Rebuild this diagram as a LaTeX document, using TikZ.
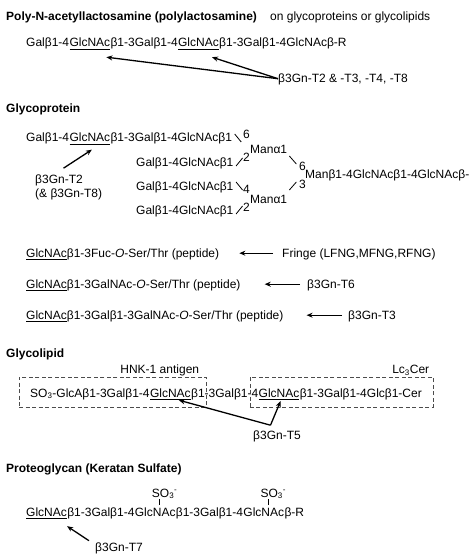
\documentclass[tikz,border=0pt]{standalone}
\usepackage{fontspec}
\setmainfont{Liberation Sans}
\usetikzlibrary{positioning,arrows.meta,fit}

\newcommand{\uln}[1]{\setbox0=\hbox{#1}\rlap{\rule[-2.4pt]{\wd0}{0.7pt}}\box0}

\tikzset{
  txt/.style={inner sep=0pt, text height=8.6pt, text depth=0pt, anchor=base west,
              font=\fontsize{12}{14}\selectfont},
  ttl/.style={txt, font=\fontsize{12}{14}\selectfont\bfseries},
  arr/.style={->, line width=1.3pt},
  lnk/.style={line width=0.8pt},
  bar/.style={line width=1.4pt},
  dbox/.style={draw=black!70, dash pattern=on 4pt off 2.5pt, line width=0.8pt, inner sep=0pt},
}

\begin{document}
\begin{tikzpicture}[x=1pt, y=-1pt, >={Stealth[length=6pt,width=5pt]}]
  \useasboundingbox (0,0) rectangle (474,559);

  % Poly-N-acetyllactosamine
  \node[ttl] (polyT) at (6,21) {Poly-N-acetyllactosamine (polylactosamine)};
  \node[txt] (polyO) at (270,21) {on glycoproteins or glycolipids};
  \node[txt] (pa) at (26,47) {Galβ1-4};
  \node[txt, base right=0pt of pa] (pg1) {\uln{GlcNAc}};
  \node[txt, base right=0pt of pg1] (pb) {β1-3Galβ1-4};
  \node[txt, base right=0pt of pb] (pg2) {\uln{GlcNAc}};
  \node[txt, base right=0pt of pg2] (pc) {β1-3Galβ1-4GlcNAcβ-R};
  \node[txt] (polyE) at (278,83) {β3Gn-T2 \& -T3, -T4, -T8};
  \draw[arr] (polyE.west) -- ([xshift=-4pt,yshift=-10pt]pg1.south east);
  \draw[arr] (polyE.west) -- ([xshift=-7pt,yshift=-10pt]pg2.south east);

  % Glycoprotein
  \node[ttl] (gpT) at (6,113) {Glycoprotein};
  \node[txt] (ga) at (26,142) {Galβ1-4};
  \node[txt, base right=0pt of ga] (gg) {\uln{GlcNAc}};
  \node[txt, base right=0pt of gg] (gb) {β1-3Galβ1-4GlcNAcβ1};
  \node[txt] (g2) at (136,166) {Galβ1-4GlcNAcβ1};
  \node[txt] (g3) at (136,190) {Galβ1-4GlcNAcβ1};
  \node[txt] (g4) at (136,214) {Galβ1-4GlcNAcβ1};
  \node[txt] (manA) at (250,153) {Manα1};
  \node[txt] (manB) at (250,203) {Manα1};
  \node[txt] (manC) at (305,178) {Manβ1-4GlcNAcβ1-4GlcNAcβ-};
  \node[txt] (d6a) at (243,139) {6};
  \node[txt] (d2a) at (243,161) {2};
  \node[txt] (d4)  at (243,193) {4};
  \node[txt] (d2b) at (243,211) {2};
  \node[txt] (d6b) at (299,170) {6};
  \node[txt] (d3)  at (299,188) {3};
  \draw[lnk] ([xshift=2.5pt,yshift=8pt]gb.base east) -- ([xshift=9pt]gb.base east);
  \draw[lnk] ([xshift=2.5pt]g2.base east) -- ([xshift=9pt,yshift=8pt]g2.base east);
  \draw[lnk] ([xshift=2.5pt,yshift=8pt]g3.base east) -- ([xshift=9pt]g3.base east);
  \draw[lnk] ([xshift=2.5pt]g4.base east) -- ([xshift=9pt,yshift=8pt]g4.base east);
  \draw[lnk] ([xshift=2pt,yshift=-3pt]manA.base east) -- ([xshift=9pt,yshift=-11pt]manA.base east);
  \draw[lnk] ([xshift=2pt,yshift=13pt]manB.base east) -- ([xshift=9pt,yshift=21pt]manB.base east);
  \node[txt] (t2a) at (35,183) {β3Gn-T2};
  \node[txt] (t2b) at (35,197) {(\& β3Gn-T8)};
  \draw[arr] ([xshift=4.5pt,yshift=6pt]t2a.north) -- ([xshift=2pt,yshift=-7.5pt]gg.south);

  % O-glycans on peptides
  \node[txt] (pp1) at (26,257.5) {\uln{GlcNAc}β1-3Fuc-\textit{O}-Ser/Thr (peptide)};
  \node[txt] (fng) at (282,257.5) {Fringe (LFNG,MFNG,RFNG)};
  \draw[arr, shorten <=9pt, shorten >=20pt] (fng.west) -- (pp1.east);
  \node[txt] (pp2) at (26,288.5) {\uln{GlcNAc}β1-3GalNAc-\textit{O}-Ser/Thr (peptide)};
  \node[txt] (t6) at (307,288.5) {β3Gn-T6};
  \draw[arr, shorten <=7pt, shorten >=24pt] (t6.west) -- (pp2.east);
  \node[txt] (pp3) at (26,319.5) {\uln{GlcNAc}β1-3Galβ1-3GalNAc-\textit{O}-Ser/Thr (peptide)};
  \node[txt] (t3) at (348,319.5) {β3Gn-T3};
  \draw[arr, shorten <=6pt, shorten >=23pt] (t3.west) -- (pp3.east);

  % Glycolipid
  \node[ttl] (glT) at (6,357.5) {Glycolipid};
  \node[txt] (la) at (30,397) {SO\textsubscript{3}-GlcAβ1-3Galβ1-4};
  \node[txt, base right=0pt of la] (lg1) {\uln{GlcNAc}};
  \node[txt, base right=0pt of lg1] (lb) {β1-3Galβ1-4};
  \node[txt, base right=0pt of lb] (lg2) {\uln{GlcNAc}};
  \node[txt, base right=0pt of lg2] (lc) {β1-3Galβ1-4Glcβ1-Cer};
  \node[dbox, fit={([xshift=-11pt,yshift=20pt]la.base west) ([xshift=15pt,yshift=-10pt]lg1.base east)}] (hnk) {};
  \node[dbox, fit={([xshift=-8.5pt,yshift=20pt]lg2.base west) ([xshift=11pt,yshift=-10pt]lc.base east)}] (lc3) {};
  \node[txt, anchor=base east] (hnkL) at ([xshift=-7pt,yshift=3pt]hnk.north east) {HNK-1 antigen};
  \node[txt, anchor=base east] (lc3L) at ([xshift=-4pt,yshift=3pt]lc3.north east) {Lc\textsubscript{3}Cer};
  \node[txt] (t5) at (253,439) {β3Gn-T5};
  \draw[arr] ([xshift=-6.5pt,yshift=5pt]t5.north) -- ([xshift=8.5pt,yshift=-3pt]lg1.south);
  \draw[arr] ([xshift=-6.5pt,yshift=5pt]t5.north) -- ([xshift=1.5pt,yshift=-4pt]lg2.south);

  % Proteoglycan
  \node[ttl] (pgT) at (6,472) {Proteoglycan (Keratan Sulfate)};
  \node[txt] (kg1) at (26,516) {\uln{GlcNAc}};
  \node[txt, base right=0pt of kg1] (ka) {β1-3Galβ1-4};
  \node[txt, base right=0pt of ka] (kg2) {GlcNAc};
  \node[txt, base right=0pt of kg2] (kb) {β1-3Galβ1-4};
  \node[txt, base right=0pt of kb] (kg3) {GlcNAc};
  \node[txt, base right=0pt of kg3] (kc) {β-R};
  \node[txt, anchor=base] (so1) at ([xshift=9.5pt,yshift=19pt]kg2.base) {SO\textsubscript{3}\textsuperscript{-}};
  \node[txt, anchor=base] (so2) at ([xshift=9.5pt,yshift=19pt]kg3.base) {SO\textsubscript{3}\textsuperscript{-}};
  \draw[bar] ([xshift=4.5pt,yshift=2.5pt]kg2.north) -- ([xshift=4.5pt,yshift=8.5pt]kg2.north);
  \draw[bar] ([xshift=4.5pt,yshift=2.5pt]kg3.north) -- ([xshift=4.5pt,yshift=8.5pt]kg3.north);
  \node[txt] (t7) at (95,551) {β3Gn-T7};
  \draw[arr] ([xshift=-6pt,yshift=1.5pt]t7.north west) -- ([yshift=-10pt]kg1.south east);
\end{tikzpicture}
\end{document}
